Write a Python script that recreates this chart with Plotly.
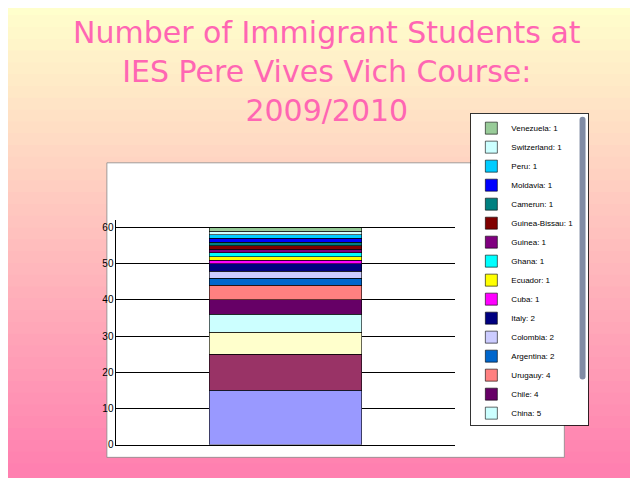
import plotly.graph_objects as go

countries = ["Morocco", "Romania", "Ukraine", "China", "Chile", "Urugauy", "Argentina",
             "Colombia", "Italy", "Cuba", "Ecuador", "Ghana", "Guinea", "Guinea-Bissau",
             "Camerun", "Moldavia", "Peru", "Switzerland", "Venezuela"]
students = [15, 10, 6, 5, 4, 4, 2, 2, 2, 1, 1, 1, 1, 1, 1, 1, 1, 1, 1]
colors = ["#9999FF", "#993366", "#FFFFCC", "#CCFFFF", "#660066", "#FF8080", "#0066CC",
          "#CCCCFF", "#000080", "#FF00FF", "#FFFF00", "#00FFFF", "#800080", "#800000",
          "#008080", "#0000FF", "#00CCFF", "#CCFFFF", "#99CC99"]

fig = go.Figure()
for name, val, col in zip(countries, students, colors):
    fig.add_trace(go.Bar(x=["2009/2010"], y=[val], name=f"{name}: {val}",
                         marker=dict(color=col, line=dict(color="black", width=0.6))))

# background gradient yellow -> pink
shapes = []
n = 40
for k in range(n):
    t = k / (n - 1)
    g = int(255 - t * (255 - 128))
    b = int(204 - t * (204 - 176))
    shapes.append(dict(type="rect", xref="paper", yref="paper", layer="below",
                       x0=-0.2, x1=1.2, y0=1 - (k + 1) / n - 0.01, y1=1 - k / n + 0.01,
                       fillcolor=f"rgb(255,{g},{b})", line=dict(width=0)))
# white chart area
shapes.append(dict(type="rect", xref="paper", yref="paper", layer="below",
                   x0=0.155, x1=0.872, y0=0.048, y1=0.672,
                   fillcolor="white", line=dict(color="#888888", width=0.8)))

fig.update_layout(
    width=638, height=478, margin=dict(l=0, r=0, t=0, b=0),
    barmode="stack", bargap=0.55,
    paper_bgcolor="#FFBFC0",
    shapes=shapes,
    annotations=[dict(text="Number of Immigrant Students at<br>IES Pere Vives Vich Course:<br>2009/2010",
                      xref="paper", yref="paper", x=0.5, y=0.99, xanchor="center", yanchor="top",
                      showarrow=False, align="center",
                      font=dict(family="DejaVu Sans", size=30, color="#FF66B3"))],
    xaxis=dict(domain=[0.17, 0.70], showticklabels=False, showline=True, linecolor="black"),
    yaxis=dict(domain=[0.075, 0.55], range=[0, 62], dtick=10, showgrid=True, gridcolor="black",
               gridwidth=0.5, showline=True, linecolor="black",
               tickfont=dict(family="Liberation Sans", size=10, color="black")),
    legend=dict(x=0.725, y=0.665, xanchor="left", yanchor="top", traceorder="reversed",
                bgcolor="white", bordercolor="black", borderwidth=0.8,
                font=dict(family="Liberation Sans", size=8, color="black"),
                itemwidth=30, tracegroupgap=0),
)
fig.write_html("out.html")
